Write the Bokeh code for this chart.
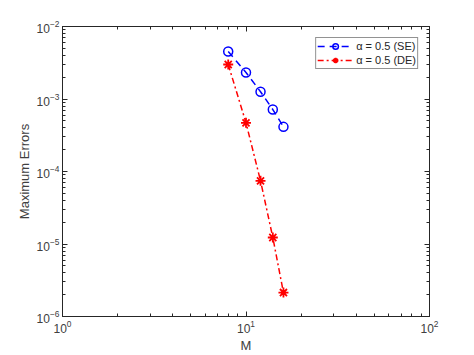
from bokeh.plotting import figure
from bokeh.models import LogAxis, FixedTicker, CustomJSTickFormatter, Legend, LegendItem
from bokeh.embed import file_html
from bokeh.resources import INLINE

M = [8, 10, 12, 14, 16]
err_se = [4.52e-3, 2.32e-3, 1.26e-3, 7.16e-4, 4.13e-4]
err_de = [2.99e-3, 4.69e-4, 7.43e-5, 1.23e-5, 2.14e-6]
label_se = "α = 0.5 (SE)"
label_de = "α = 0.5 (DE)"
x_major = [1, 10, 100]
x_minor = [2, 3, 4, 5, 6, 7, 8, 9, 20, 30, 40, 50, 60, 70, 80, 90]
y_major = [1e-6, 1e-5, 1e-4, 1e-3, 1e-2]
y_minor = [m * 10.0 ** e for e in range(-6, -2) for m in range(2, 10)]

FONT = "Liberation Sans"
GRAY = "#262626"

p = figure(width=474, height=355, x_axis_type="log", y_axis_type="log",
           x_range=(1, 100), y_range=(1e-6, 1e-2),
           output_backend="svg", toolbar_location=None,
           min_border_left=62, min_border_right=45, min_border_top=26, min_border_bottom=39)
p.grid.visible = False
p.outline_line_color = GRAY
p.background_fill_color = "white"
p.border_fill_color = "white"

p.xaxis.ticker = FixedTicker(ticks=x_major, minor_ticks=x_minor)
p.yaxis.ticker = FixedTicker(ticks=y_major, minor_ticks=y_minor)
p.xaxis.axis_label = "M"
p.yaxis.axis_label = "Maximum Errors"

def style(ax):
    ax.major_tick_in = 5
    ax.major_tick_out = 0
    ax.minor_tick_in = 3
    ax.minor_tick_out = 0
    ax.axis_line_color = GRAY
    ax.major_tick_line_color = GRAY
    ax.minor_tick_line_color = GRAY
    ax.major_label_text_color = "#404040"
    ax.major_label_text_font = FONT
    ax.major_label_text_font_size = "12px"
    ax.axis_label_text_font = FONT
    ax.axis_label_text_font_style = "normal"
    ax.axis_label_text_color = "#404040"
    ax.axis_label_text_font_size = "13px"
    ax.axis_label_standoff = 2
    ax.major_label_standoff = 3

for ax in list(p.xaxis) + list(p.yaxis):
    style(ax)

top = LogAxis(ticker=FixedTicker(ticks=x_major, minor_ticks=x_minor),
              formatter=CustomJSTickFormatter(code="return ''"))
right = LogAxis(ticker=FixedTicker(ticks=y_major, minor_ticks=y_minor),
                formatter=CustomJSTickFormatter(code="return ''"))
style(top)
style(right)
top.major_label_standoff = 0
right.major_label_standoff = 0
p.add_layout(top, "above")
p.add_layout(right, "right")

l1 = p.line(M, err_se, line_color="#0000FF", line_width=1.5, line_dash="7 5")
s1 = p.scatter(M, err_se, marker="circle", size=9, line_color="#0000FF",
               fill_color=None, line_width=1.5)
l2 = p.line(M, err_de, line_color="#FF0000", line_width=1.5, line_dash="6 3 2 3")
s2 = p.scatter(M, err_de, marker="asterisk", size=10, line_color="#FF0000", line_width=1.8)

legend = Legend(items=[LegendItem(label=label_se, renderers=[l1, s1]),
                       LegendItem(label=label_de, renderers=[l2, s2])],
                location="top_right")
legend.margin = 11
legend.padding = 1
legend.spacing = 0
legend.glyph_width = 36
legend.glyph_height = 14
legend.label_height = 14
legend.label_standoff = 3
legend.label_text_font = FONT
legend.label_text_font_size = "11px"
legend.label_text_color = GRAY
legend.border_line_color = GRAY
legend.border_line_width = 1
legend.background_fill_alpha = 1
p.add_layout(legend)

open("out.html", "w").write(file_html(p, INLINE))
